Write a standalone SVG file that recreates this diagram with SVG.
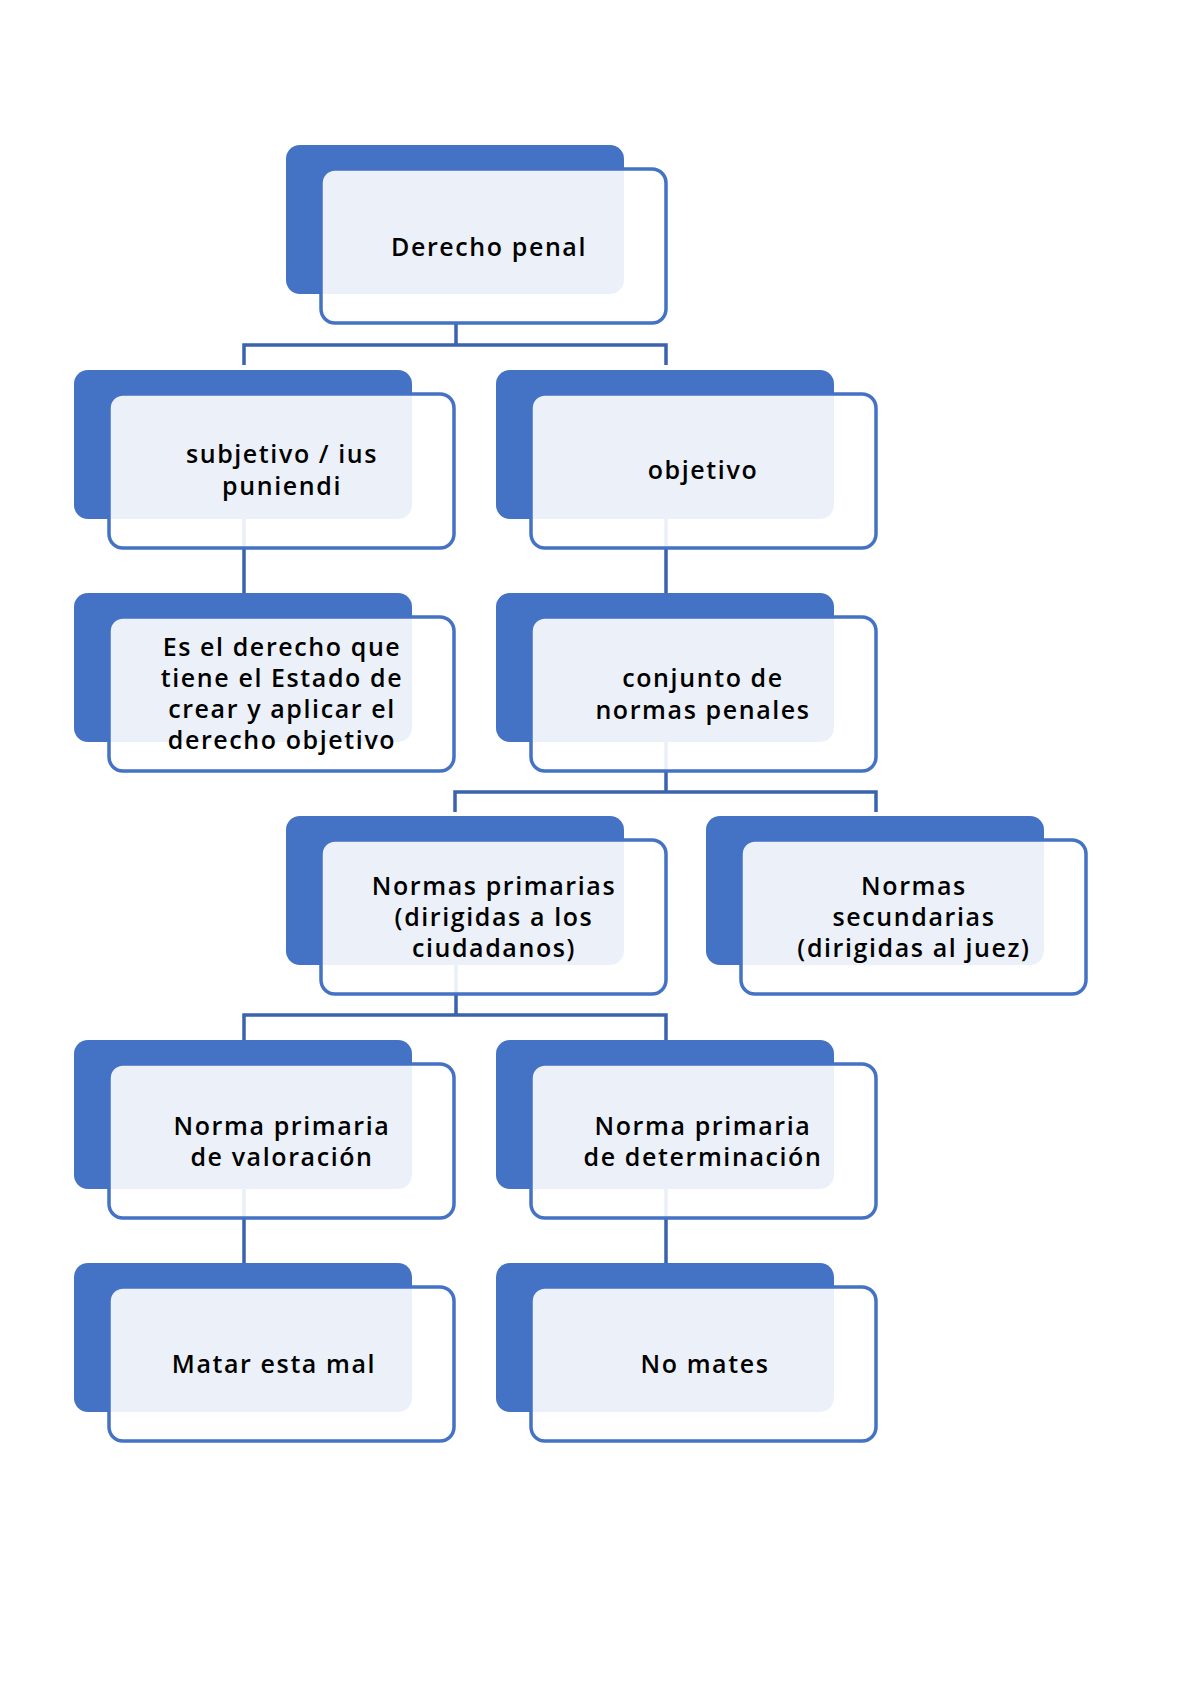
<svg xmlns="http://www.w3.org/2000/svg" width="1200" height="1698" viewBox="0 0 1200 1698">
<style>
.bk{fill:#4472c4}
.fr{fill:#fff;fill-opacity:0.9;stroke:#4472c4;stroke-width:3.5}
.t{font-family:"Open Sans","DejaVu Sans",sans-serif;font-size:25px;font-weight:600;letter-spacing:1.6px;fill:#000;text-anchor:middle}
.c{fill:none;stroke:#3a62ad;stroke-width:3.5}
</style>
<rect width="1200" height="1698" fill="#fff"/>
<g id="connectors">
<path class="c" d="M456 323V345M244 365V345H666V365"/>
<path class="c" d="M244 519V593M666 519V593"/>
<path class="c" d="M666 742V792M455 812V792H876V812"/>
<path class="c" d="M456 965V1015M244 1040V1015H666V1040"/>
<path class="c" d="M244 1189V1263M666 1189V1263"/>
</g>
<g id="n1"><rect class="bk" x="286" y="145" width="338" height="149" rx="14"/><rect class="fr" x="321" y="169" width="345" height="154" rx="14"/><text class="t" x="489" y="256">Derecho penal</text></g>
<g id="n2"><rect class="bk" x="74" y="370" width="338" height="149" rx="14"/><rect class="fr" x="109" y="394" width="345" height="154" rx="14"/><text class="t" x="282" y="463">subjetivo / ius</text><text class="t" x="282" y="495">puniendi</text></g>
<g id="n3"><rect class="bk" x="496" y="370" width="338" height="149" rx="14"/><rect class="fr" x="531" y="394" width="345" height="154" rx="14"/><text class="t" x="703" y="479">objetivo</text></g>
<g id="n4"><rect class="bk" x="74" y="593" width="338" height="149" rx="14"/><rect class="fr" x="109" y="617" width="345" height="154" rx="14"/><text class="t" x="282" y="656">Es el derecho que</text><text class="t" x="282" y="687">tiene el Estado de</text><text class="t" x="282" y="718">crear y aplicar el</text><text class="t" x="282" y="749">derecho objetivo</text></g>
<g id="n5"><rect class="bk" x="496" y="593" width="338" height="149" rx="14"/><rect class="fr" x="531" y="617" width="345" height="154" rx="14"/><text class="t" x="703" y="687">conjunto de</text><text class="t" x="703" y="719">normas penales</text></g>
<g id="n6"><rect class="bk" x="286" y="816" width="338" height="149" rx="14"/><rect class="fr" x="321" y="840" width="345" height="154" rx="14"/><text class="t" x="494" y="895">Normas primarias</text><text class="t" x="494" y="926">(dirigidas a los</text><text class="t" x="494" y="957">ciudadanos)</text></g>
<g id="n7"><rect class="bk" x="706" y="816" width="338" height="149" rx="14"/><rect class="fr" x="741" y="840" width="345" height="154" rx="14"/><text class="t" x="914" y="895">Normas</text><text class="t" x="914" y="926">secundarias</text><text class="t" x="914" y="957">(dirigidas al juez)</text></g>
<g id="n8"><rect class="bk" x="74" y="1040" width="338" height="149" rx="14"/><rect class="fr" x="109" y="1064" width="345" height="154" rx="14"/><text class="t" x="282" y="1135">Norma primaria</text><text class="t" x="282" y="1166">de valoración</text></g>
<g id="n9"><rect class="bk" x="496" y="1040" width="338" height="149" rx="14"/><rect class="fr" x="531" y="1064" width="345" height="154" rx="14"/><text class="t" x="703" y="1135">Norma primaria</text><text class="t" x="703" y="1166">de determinación</text></g>
<g id="n10"><rect class="bk" x="74" y="1263" width="338" height="149" rx="14"/><rect class="fr" x="109" y="1287" width="345" height="154" rx="14"/><text class="t" x="274" y="1373">Matar esta mal</text></g>
<g id="n11"><rect class="bk" x="496" y="1263" width="338" height="149" rx="14"/><rect class="fr" x="531" y="1287" width="345" height="154" rx="14"/><text class="t" x="705" y="1373">No mates</text></g>
</svg>
